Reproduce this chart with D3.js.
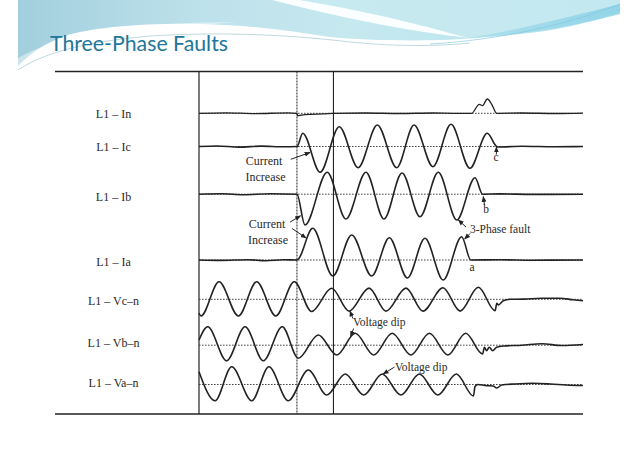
<!DOCTYPE html>
<html><head><meta charset="utf-8">
<script src="https://cdn.jsdelivr.net/npm/d3@7"></script>
<style>html,body{margin:0;padding:0;background:#fff;}svg{display:block;}</style>
</head><body>
<svg id="chart" width="638" height="451"></svg>
<script>
// ---------------- DATA (time in ms, amplitude in display units) ----------------
const title = "Three-Phase Faults";
const traceNames = ["L1 – In","L1 – Ic","L1 – Ib","L1 – Ia","L1 – Vc–n","L1 – Vb–n","L1 – Va–n"];
const timeDomain = [0, 172.5];
const eventTimes = [44.0, 60.4];          // fault inception, second marker

const inValues = [[0,0],[12,0.05],[25,-0.03],[40,0.04],[44,0],[44.3,-0.25],[46,-0.18],[50,-0.1],[56,-0.06],[60.4,0],[75,0.03],[90,-0.02],[105,0.03],[115,0],[122.5,0],[125.9,0.9],[127.4,0.76],[129.5,1.43],[131.5,0.9],[133.7,0],[145,0.03],[160,-0.02],[172.5,0.02]];
const icValues = [[0,0],[8,0.05],[18,-0.06],[28,0.04],[38,-0.03],[44,0],[46.6,1.32],[54.4,-2.58],[63.0,1.98],[71.5,-2.12],[80.1,2.15],[88.8,-2.12],[96.6,2.15],[105.1,-2.02],[113.2,2.22],[121.7,-2.18],[129.5,1.32],[133.7,0],[134.5,-0.05],[145,0.03],[160,-0.02],[172.5,0]];
const ibValues = [[0,0],[10,0.04],[20,-0.05],[32,0.05],[44,0],[47.6,-3.08],[57.6,2.19],[66.0,-2.48],[75.0,2.19],[83.1,-2.48],[91.2,2.12],[99.3,-2.25],[107.5,2.19],[115.8,-2.58],[124.0,1.65],[127.4,0],[135,0.03],[150,-0.02],[172.5,0]];
const iaValues = [[0,0],[10,-0.04],[22,0.03],[30,-0.07],[38,0.02],[44,0],[51.1,3.17],[60.1,-1.6],[68.6,2.5],[77.6,-1.6],[85.5,2.23],[93.6,-1.8],[101.5,2.17],[109.7,-2.0],[118.0,2.33],[122.1,0],[135,0.02],[150,-0.02],[172.5,0]];
const vcValues = [[0,-1.37],[0.9,-1.67],[9.0,1.76],[17.7,-1.67],[25.9,1.76],[34.5,-1.67],[42.8,1.76],[50.6,-1.22],[59.6,1.10],[67.4,-1.18],[76.4,1.12],[84.0,-1.18],[93.0,1.12],[100.6,-1.18],[109.6,1.15],[117.3,-1.18],[125.5,1.2],[133.0,-1.14],[133.8,-0.4],[134.5,-0.57],[136.7,-0.14],[139.7,0],[146,0.02],[154,0.1],[162,0.1],[168,-0.05],[172.5,-0.15]];
const vbValues = [[0,0.52],[3.9,1.85],[12.4,-1.55],[20.7,1.85],[28.9,-1.55],[37.4,1.85],[44.6,-1.3],[53.6,1.02],[61.9,-0.98],[70.2,1.19],[78.5,-0.98],[86.8,1.19],[95.2,-0.98],[103.5,1.19],[111.8,-0.98],[119.8,1.19],[127.4,-0.88],[128.2,-0.2],[129.2,-0.55],[130.4,-0.2],[131.9,-0.55],[133.7,-0.2],[136.7,-0.08],[145,0.0],[154,0.15],[163,-0.03],[172.5,0.07]];
const vaValues = [[0,1.28],[7.2,-1.62],[14.7,1.78],[23.7,-1.62],[31.4,1.78],[40.1,-1.62],[49.1,1.45],[57.4,-1.05],[65.7,1.05],[74.0,-1.05],[82.3,1.05],[90.7,-1.05],[99.0,1.05],[107.3,-1.05],[115.6,1.05],[123.3,-1.15],[124.0,-0.2],[125.3,0.0],[128.5,-0.1],[132.2,-0.15],[133.7,-0.35],[136,-0.05],[142,0.05],[150,0.12],[158,0.05],[165,-0.05],[172.5,-0.1]];
const traceValues = [inValues, icValues, ibValues, iaValues, vcValues, vbValues, vaValues];

// annotations: arrow tips in data terms (row, t, value)
const annoTexts = ["Current","Increase","Current","Increase","3-Phase fault","c","b","a","Voltage dip","Voltage dip"];
const arrowTips = [[1,49.9,-0.6],[2,45.6,-2.15],[3,48.1,2.2],[2,116.5,-2.58],[3,119.3,2.1],[1,133.6,-0.05],[2,127.7,-0.23],[4,67.8,-1.17],[5,68.1,0.87],[6,82.7,1.05]];

// ---------------- LAYOUT ----------------
const rowBase = [113.3, 146.5, 194.2, 260, 299.3, 345.2, 384.5];
const labelBase = [117.5, 151, 200.5, 265.5, 305, 347, 386.5];
const arrowTail = [[-19.3,6.8],[-10.5,6.5],[-14,-9.5],[7.7,7],[5.5,-5.5],[0,7.5],[1.2,8.5],[3,7.5],[3,-8],[11.5,-7]];
const annoPos = [[264,164.5,"middle"],[265.5,181,"middle"],[267,228,"middle"],[268,244,"middle"],[470,232.5,"start"],[496,160.5,"middle"],[486,213,"middle"],[472,271,"middle"],[353,326,"start"],[395,370.5,"start"]];
const plot = {left:199, right:583, top:71.5, bottom:414, frameLeft:55};

const svg = d3.select("#chart");
const ink = "#222";

// ---------------- slide decoration ----------------
const defs = svg.append("defs");
const sky = defs.append("linearGradient").attr("id","sky").attr("x1",0).attr("x2",1).attr("y1",0).attr("y2",0);
[[0,"#a2cfdd"],[0.3,"#bde1eb"],[0.55,"#c6e8ef"],[0.8,"#bde6ef"],[1,"#9dd9ea"]].forEach(([o,c])=>sky.append("stop").attr("offset",o).attr("stop-color",c));
const band = defs.append("linearGradient").attr("id","band").attr("x1",0).attr("x2",1).attr("y1",0).attr("y2",0);
[[0,"#b4e0ea"],[0.6,"#a6dcec"],[1,"#8fd3e8"]].forEach(([o,c])=>band.append("stop").attr("offset",o).attr("stop-color",c));
const marker = defs.append("marker").attr("id","ah").attr("viewBox","0 0 10 10").attr("refX",9).attr("refY",5)
  .attr("markerWidth",6).attr("markerHeight",6).attr("markerUnits","userSpaceOnUse").attr("orient","auto");
marker.append("path").attr("d","M0,1 L10,5 L0,9 Z").attr("fill",ink);

svg.append("rect").attr("width",638).attr("height",451).attr("fill","#fff");
svg.append("path").attr("fill","url(#sky)")
  .attr("d","M18,0 H620 V14 C600,19 560,30 530,33 C490,37 470,39 440,40 C400,41 360,40 330,37 C290,31 250,25 200,24 C140,23 90,28 65,36 C42,44 28,56 18,66 Z");
svg.append("path").attr("fill","url(#band)").attr("opacity",0.8)
  .attr("d","M272,0 Q380,28 468,38 C500,36 560,30 600,18 L620,12 V0 Z");
svg.append("path").attr("fill","#c9eaf1").attr("opacity",0.9)
  .attr("d","M300,0 Q385,14 468,38 C520,30 580,14 620,4 V0 Z");
svg.append("path").attr("fill","#ffffff").attr("opacity",0.95)
  .attr("d","M300,0 Q385,14 468,38 Q380,28 272,0 Z");
svg.append("path").attr("fill","#ffffff").attr("opacity",0.45)
  .attr("d","M18,58 C60,34 140,22 240,22 C180,26 90,36 18,66 Z");
svg.append("path").attr("fill","none").attr("stroke","#8db8c4").attr("stroke-width",0.7).attr("opacity",0.8)
  .attr("d","M18,70 C40,55 80,42 150,36 C230,31 300,36 350,42 C400,47 440,46 470,43");
svg.append("path").attr("fill","none").attr("stroke","#7fc6dc").attr("stroke-width",0.8).attr("opacity",0.8)
  .attr("d","M430,44 C500,40 570,24 620,4");

svg.append("text").attr("x",50).attr("y",51).text(title)
  .attr("font-family","Lato, 'Open Sans', sans-serif").attr("font-size",22)
  .attr("fill","#23769a").attr("textLength",178).attr("lengthAdjust","spacingAndGlyphs");

// ---------------- scales ----------------
const x = d3.scaleLinear().domain(timeDomain).range([plot.left, plot.right]);
const rowScale = i => d3.scaleLinear().domain([-1,1]).range([rowBase[i]+10, rowBase[i]-10]);
const yScales = traceNames.map((_,i)=>rowScale(i));

// frame
const frame = svg.append("g").attr("stroke",ink).attr("fill","none");
frame.append("line").attr("x1",plot.frameLeft).attr("x2",plot.right).attr("y1",plot.top).attr("y2",plot.top).attr("stroke-width",1.5);
frame.append("line").attr("x1",plot.frameLeft).attr("x2",plot.right).attr("y1",plot.bottom).attr("y2",plot.bottom).attr("stroke-width",1.5);
frame.append("line").attr("x1",x(timeDomain[0])).attr("x2",x(timeDomain[0])).attr("y1",plot.top).attr("y2",plot.bottom).attr("stroke-width",1.2);
frame.append("line").attr("x1",x(eventTimes[0])).attr("x2",x(eventTimes[0])).attr("y1",plot.top).attr("y2",plot.bottom).attr("stroke-width",1).attr("stroke-dasharray","2,1");
frame.append("line").attr("x1",x(eventTimes[1])).attr("x2",x(eventTimes[1])).attr("y1",plot.top).attr("y2",plot.bottom).attr("stroke-width",1.1);

// dotted baselines
svg.append("g").selectAll("line").data(traceNames).join("line")
  .attr("x1",x(timeDomain[0])).attr("x2",x(timeDomain[1]))
  .attr("y1",(d,i)=>yScales[i](0)).attr("y2",(d,i)=>yScales[i](0))
  .attr("stroke","#333").attr("stroke-width",0.9).attr("stroke-dasharray","1.6,1.4");

// traces
svg.append("g").selectAll("path").data(traceValues).join("path")
  .attr("fill","none").attr("stroke",ink).attr("stroke-width",(d,i)=>i===0?1.3:1.6).attr("stroke-linejoin","round")
  .attr("d",(d,i)=>d3.line().x(p=>x(p[0])).y(p=>yScales[i](p[1])).curve(d3.curveMonotoneX)(d));

// row labels
svg.append("g").selectAll("text").data(traceNames).join("text")
  .attr("x",113.5).attr("y",(d,i)=>labelBase[i]).attr("text-anchor","middle")
  .attr("font-family","'Liberation Serif', 'DejaVu Serif', serif").attr("font-size",12).attr("fill","#2a2a2a")
  .text(d=>d);

// annotation arrows
svg.append("g").selectAll("line").data(arrowTips).join("line")
  .attr("x1",(d,i)=>x(d[1])+arrowTail[i][0]).attr("y1",(d,i)=>yScales[d[0]](d[2])+arrowTail[i][1])
  .attr("x2",d=>x(d[1])).attr("y2",d=>yScales[d[0]](d[2]))
  .attr("stroke",ink).attr("stroke-width",1).attr("marker-end","url(#ah)");

// annotation texts
svg.append("g").selectAll("text").data(annoTexts).join("text")
  .attr("x",(d,i)=>annoPos[i][0]).attr("y",(d,i)=>annoPos[i][1]).attr("text-anchor",(d,i)=>annoPos[i][2])
  .attr("font-family","'Liberation Serif', 'DejaVu Serif', serif").attr("font-size",(d,i)=>i<4?12:11.5).attr("fill","#2a2a2a")
  .text(d=>d);
</script>
</body></html>
